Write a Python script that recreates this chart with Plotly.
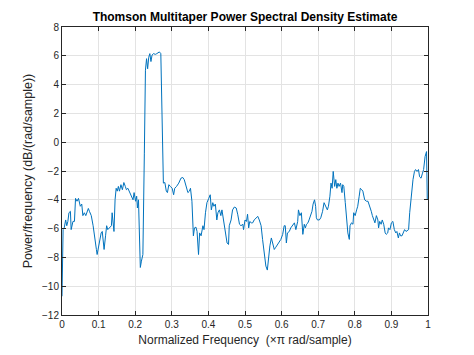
import plotly.graph_objects as go

freq = [0.0, 0.003, 0.006, 0.01, 0.013, 0.016, 0.019, 0.023, 0.025, 0.03, 0.034, 0.037, 0.041, 0.045,
        0.05, 0.054, 0.057, 0.061, 0.065, 0.068, 0.072, 0.075, 0.08, 0.085, 0.089, 0.094, 0.096,
        0.1, 0.103, 0.107, 0.11, 0.113, 0.115, 0.119, 0.122, 0.125, 0.13, 0.135, 0.137, 0.14,
        0.142, 0.145, 0.148, 0.151, 0.154, 0.157, 0.161, 0.165, 0.169, 0.173, 0.176, 0.18, 0.185,
        0.189, 0.194, 0.197, 0.201, 0.204, 0.206, 0.209, 0.211, 0.214, 0.217, 0.221, 0.225, 0.228,
        0.231, 0.234, 0.237, 0.24, 0.243, 0.246, 0.25, 0.255, 0.259, 0.263, 0.266, 0.27, 0.274,
        0.277, 0.281, 0.285, 0.288, 0.292, 0.296, 0.301, 0.305, 0.308, 0.313, 0.319, 0.325,
        0.33, 0.334, 0.339, 0.344, 0.348, 0.351, 0.355, 0.357, 0.359, 0.362, 0.366, 0.369, 0.373,
        0.376, 0.38, 0.385, 0.388, 0.392, 0.396, 0.401, 0.405, 0.408, 0.412, 0.415, 0.419, 0.423,
        0.426, 0.43, 0.434, 0.437, 0.442, 0.446, 0.451, 0.455, 0.457, 0.462, 0.466, 0.471, 0.476,
        0.48, 0.485, 0.489, 0.494, 0.496, 0.5, 0.504, 0.507, 0.51, 0.513, 0.517, 0.521, 0.525,
        0.53, 0.535, 0.539, 0.544, 0.548, 0.553, 0.557, 0.561, 0.564, 0.568, 0.572, 0.575, 0.58,
        0.584, 0.589, 0.594, 0.598, 0.603, 0.607, 0.61, 0.613, 0.616, 0.621, 0.625, 0.63, 0.635,
        0.639, 0.644, 0.646, 0.65, 0.654, 0.658, 0.662, 0.665, 0.668, 0.672, 0.675, 0.679, 0.683,
        0.686, 0.69, 0.693, 0.695, 0.698, 0.703, 0.707, 0.712, 0.716, 0.721, 0.725, 0.728, 0.732,
        0.735, 0.738, 0.741, 0.743, 0.745, 0.748, 0.751, 0.754, 0.757, 0.761, 0.765, 0.767, 0.77,
        0.774, 0.777, 0.781, 0.785, 0.787, 0.791, 0.795, 0.797, 0.801, 0.805, 0.808, 0.812, 0.815,
        0.819, 0.822, 0.827, 0.832, 0.836, 0.841, 0.845, 0.848, 0.852, 0.855, 0.859, 0.863, 0.865,
        0.868, 0.872, 0.875, 0.879, 0.883, 0.886, 0.89, 0.892, 0.896, 0.9, 0.904, 0.908, 0.912,
        0.915, 0.919, 0.922, 0.925, 0.929, 0.933, 0.936, 0.94, 0.944, 0.947, 0.95, 0.953, 0.955,
        0.959, 0.963, 0.966, 0.97, 0.974, 0.977, 0.981, 0.985, 0.988, 0.992, 0.994, 0.996, 0.998, 1.0]

psd_db = [-10.7, -6.07, -5.95, -5.4, -5.8, -5.5, -4.9, -4.8, -6.07, -5.5, -5.5, -3.9, -4.1, -3.9,
          -4.45, -4.3, -5.1, -4.9, -5.1, -4.8, -4.6, -4.8, -5.1, -5.8, -6.75, -7.45, -7.8,
          -7.2, -7.0, -6.3, -6.2, -6.75, -7.45, -6.5, -5.8, -6.07, -5.95, -5.8, -4.9, -5.6,
          -6.2, -4.0, -3.2, -3.4, -3.07, -3.4, -2.95, -3.3, -2.8, -3.07, -3.3, -3.2, -3.5,
          -3.75, -4.0, -3.5, -4.1, -3.75, -4.57, -4.0, -5.6, -8.7, -8.26, -7.8, -0.76, 5.0,
          5.8, 5.1, 5.9, 6.15, 5.6, 6.05, 6.15, 6.1, 6.15, 6.2, 6.27, 6.15, 1.55,
          -2.84, -2.8, -3.4, -3.5, -2.95, -3.07, -3.2, -3.65, -3.2, -3.07, -2.84, -2.5,
          -2.45, -2.6, -3.07, -3.5, -3.4, -3.2, -4.1, -5.4, -6.5, -5.95, -5.9, -6.2, -7.8,
          -6.3, -6.5, -5.8, -6.07, -4.9, -4.2, -3.9, -3.65, -4.7, -4.2, -4.45, -4.3, -5.4,
          -4.9, -4.7, -5.1, -4.7, -5.6, -6.3, -7.0, -7.1, -5.8, -5.4, -4.7, -4.5, -4.57,
          -5.0, -5.7, -5.8, -5.7, -6.07, -5.4, -5.5, -5.0, -5.95, -5.5, -5.6, -5.6, -5.4,
          -5.25, -5.15, -5.4, -5.8, -6.75, -7.7, -8.6, -8.88, -8.1, -7.2, -6.65, -6.9, -7.45,
          -7.3, -7.1, -6.9, -6.75, -6.4, -5.8, -5.8, -7.0, -6.3, -6.2, -5.95, -5.8, -5.6,
          -6.07, -5.5, -4.7, -5.1, -4.9, -6.4, -5.7, -5.95, -5.7, -5.6, -5.4, -5.1, -4.8,
          -4.3, -4.0, -4.45, -5.25, -5.4, -5.4, -5.25, -4.8, -4.2, -4.45, -4.7, -4.45,
          -3.75, -2.84, -3.2, -2.03, -2.6, -3.07, -2.6, -3.2, -2.84, -3.07, -2.84, -3.5, -2.95,
          -3.07, -4.2, -5.4, -6.3, -6.75, -5.8, -5.6, -5.7, -4.9, -5.1, -4.7, -4.45, -3.75,
          -3.2, -3.3, -3.4, -4.0, -4.1, -4.1, -4.45, -4.8, -5.1, -5.5, -5.6, -5.1, -5.4,
          -5.95, -5.5, -5.7, -5.4, -5.7, -6.3, -6.4, -6.3, -5.95, -6.07, -5.6, -5.5, -6.07,
          -6.3, -6.2, -6.65, -6.3, -6.5, -6.5, -6.3, -6.07, -6.2, -6.1, -6.07, -4.9, -4.0,
          -3.3, -2.6, -2.03, -1.9, -2.03, -1.9, -2.4, -2.5, -2.15, -1.9, -1.0, -0.76, -0.65, -4.0]

x_ticks = [0, 0.1, 0.2, 0.3, 0.4, 0.5, 0.6, 0.7, 0.8, 0.9, 1]
x_tick_labels = ["0", "0.1", "0.2", "0.3", "0.4", "0.5", "0.6", "0.7", "0.8", "0.9", "1"]
y_ticks = [-12, -10, -8, -6, -4, -2, 0, 2, 4, 6, 8]

axis_col = "#262626"
font_family = "Liberation Sans, Arial, sans-serif"

fig = go.Figure()
fig.add_trace(go.Scatter(x=freq, y=psd_db, mode="lines",
                         line=dict(color="#0072BD", width=1), showlegend=False))

common = dict(showline=True, linecolor=axis_col, linewidth=1, mirror="ticks",
              ticks="inside", ticklen=4, tickcolor=axis_col, showgrid=True,
              gridcolor="#E3E3E3", gridwidth=1, zeroline=False, automargin=False,
              tickfont=dict(size=10, color=axis_col, family=font_family))

fig.update_xaxes(range=[0, 1], tickvals=x_ticks, ticktext=x_tick_labels,
                 title=dict(text="Normalized Frequency  (×π rad/sample)",
                            font=dict(size=12, color=axis_col, family=font_family), standoff=6),
                 **common)
fig.update_yaxes(range=[-12, 8], tickvals=y_ticks,
                 title=dict(text="Power/frequency (dB/(rad/sample))",
                            font=dict(size=12.5, color=axis_col, family=font_family), standoff=6),
                 **common)

fig.update_layout(
    width=474, height=355,
    margin=dict(l=62, r=46, t=27, b=40),
    paper_bgcolor="white", plot_bgcolor="white",
    title=dict(text="<b>Thomson Multitaper Power Spectral Density Estimate</b>",
               x=245 / 474, xanchor="center", y=1 - 17 / 355, yanchor="middle",
               font=dict(size=12, color="black", family=font_family)),
)

fig.write_html("out.html", config={"displayModeBar": False},
               post_script="document.body.style.margin='0px';document.body.style.overflow='hidden';")
